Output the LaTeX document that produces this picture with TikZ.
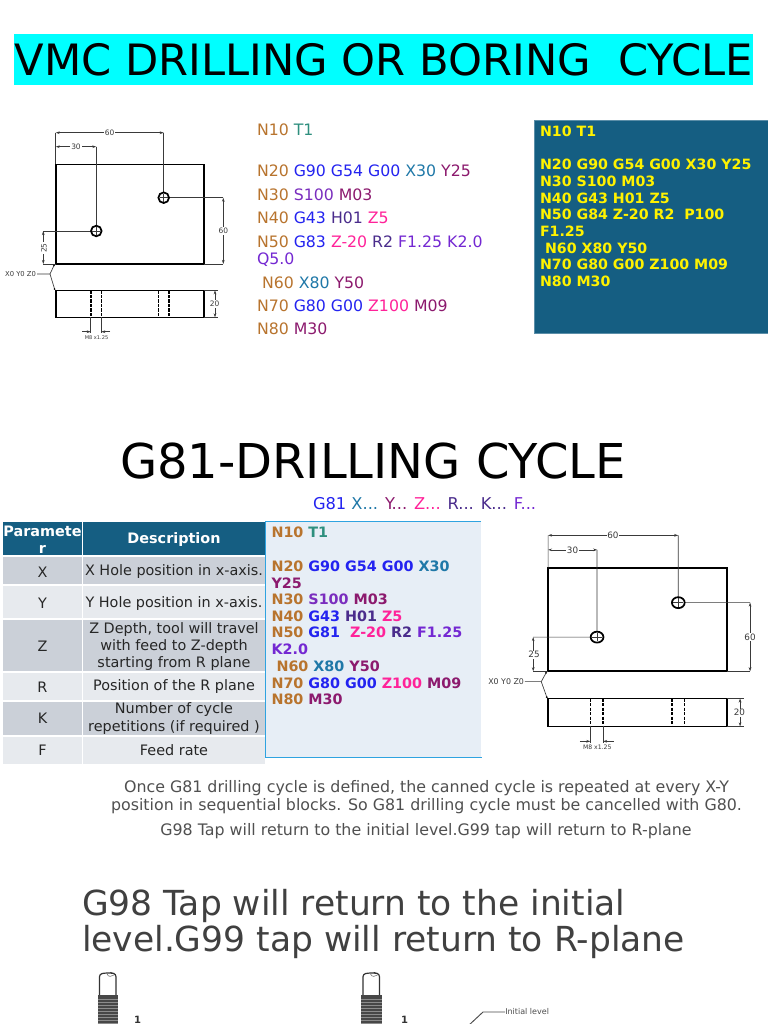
\documentclass[tikz,border=0pt]{standalone}
\usepackage{fontspec}
\usetikzlibrary{arrows.meta}
\setmainfont{DejaVu Sans}
\definecolor{aqua}{HTML}{00FFFF}
\definecolor{cN}{HTML}{B8742E}
\definecolor{cT}{HTML}{2E8F7E}
\definecolor{cG}{HTML}{2323F0}
\definecolor{cX}{HTML}{1F78A8}
\definecolor{cY}{HTML}{8C1A6E}
\definecolor{cS}{HTML}{7A2DBE}
\definecolor{cH}{HTML}{4A2C8C}
\definecolor{cZ}{HTML}{FF2299}
\definecolor{cF}{HTML}{7428D2}
\definecolor{navy}{HTML}{155E82}
\definecolor{rowA}{HTML}{CBD0D8}
\definecolor{rowB}{HTML}{E7EAEE}
\definecolor{panel}{HTML}{E7EEF6}
\definecolor{panelline}{HTML}{2FA3E0}
\definecolor{bodygrey}{HTML}{505050}
\definecolor{headgrey}{HTML}{404040}
\definecolor{dimgrey}{HTML}{3A3A3A}
\newcommand{\pxf}[2]{\fontsize{#1}{#2}\selectfont}
\newcommand{\N}[1]{\textcolor{cN}{#1}}
\newcommand{\T}[1]{\textcolor{cT}{#1}}
\newcommand{\G}[1]{\textcolor{cG}{#1}}
\newcommand{\Xc}[1]{\textcolor{cX}{#1}}
\newcommand{\Yc}[1]{\textcolor{cY}{#1}}
\newcommand{\Sc}[1]{\textcolor{cS}{#1}}
\newcommand{\Hc}[1]{\textcolor{cH}{#1}}
\newcommand{\Zc}[1]{\textcolor{cZ}{#1}}
\newcommand{\Fc}[1]{\textcolor{cF}{#1}}
\tikzset{
  line/.style={anchor=base west,inner sep=0pt,outer sep=0pt},
  plain/.style={line,font=\pxf{11.8}{14}},
  codeb/.style={line,font=\pxf{10.75}{13}\bfseries},
  yel/.style={line,font=\pxf{10.65}{13}\bfseries,text=yellow},
  cellt/.style={inner sep=0pt,align=center,text=black!85,font=\pxf{10.8}{13}},
  headt/.style={inner sep=0pt,align=center,text=white,font=\pxf{10.8}{13}\bfseries},
  heavy/.style={line width=1.2pt,black},
  thin/.style={line width=0.5pt,dimgrey},
  dim/.style={thin,{Stealth[length=3pt,width=2pt]}-{Stealth[length=3pt,width=2pt]}},
  dimo/.style={thin,-{Stealth[length=3pt,width=2pt]}},
  hid/.style={line width=1.2pt,black,dash pattern=on 2.4pt off 1pt},
  lbl/.style={inner sep=0.6pt,text=dimgrey},
  para/.style={inner sep=0pt,text=bodygrey,font=\pxf{11.88}{14}},
}
\newcommand{\drawing}[9]{% prefix, shift, xscale, yscale, font, rot, origin-label font, small font, dark-label x
\begin{scope}[shift={#2},xscale=#3,yscale=#4,every node/.append style={font=#5}]
  \coordinate (#1a) at (55.7,164.3); \coordinate (#1b) at (204,264);
  \coordinate (#1h) at (96.3,231); \coordinate (#1k) at (163.7,197.7);
  \draw[heavy] (#1a) rectangle (#1b);
  \draw[heavy] (55.7,290.3) rectangle (204,317.3);
  \draw[thin] (55.7,132.7) -- (#1a);
  \draw[thin] (163.7,132.7) -- (#1k);
  \draw[thin] (96.3,146.7) -- (#1h);
  \draw[dim] (55.7,132.7) -- (163.7,132.7);
  \draw[dim] (55.7,146.7) -- (96.3,146.7);
  \node[lbl,fill=white] (#1n60) at (109.5,133) {60};
  \node[lbl,fill=white] (#1n30) at (76,147) {30};
  \draw[thin] (#1h) -- (43.3,231);
  \draw[thin] (43.3,264) -- (55.7,264);
  \draw[dim] (43.3,231) -- (43.3,264);
  \node[lbl,fill=white,rotate=#6] (#1n25) at (44,248) {25};
  \draw[thin] (#1k) -- (223.3,197.7);
  \draw[thin] (204,264) -- (223.3,264);
  \draw[dim] (223.3,197.7) -- (223.3,264);
  \node[lbl,fill=white] (#1nr) at (223.3,231) {60};
  \draw[line width=1.3pt,black,fill=white] (#1h) circle [radius=5.3];
  \draw[line width=1.3pt,black,fill=white] (#1k) circle [radius=5.3];
  \draw[thin] (92.3,231) -- (100.3,231) (96.3,227) -- (96.3,235);
  \draw[thin] (159.7,197.7) -- (167.7,197.7) (163.7,193.7) -- (163.7,201.7);
  \foreach \xx in {90.7,101.3,158.3,169}{\draw[hid] (\xx,290.3) -- (\xx,317.3);}
  \draw[thin] (204,290.3) -- (218,290.3) (204,317.3) -- (218,317.3);
  \draw[dim] (215,290.3) -- (215,317.3);
  \node[lbl,fill=white] (#1n20) at (214.5,304) {20};
  \draw[thin] (90.7,317.3) -- (90.7,333) (101.3,317.3) -- (101.3,333);
  \draw[dimo] (82,331.7) -- (90.7,331.7);
  \draw[dimo] (110,331.7) -- (101.3,331.7);
  \node[lbl,font=#8] (#1m) at (96.5,337.5) {M8 x1.25};
  \node[lbl,anchor=east,font=#7] (#1o) at (#9,274) {X0 Y0 Z0};
  \coordinate (#1p) at (50,274);
  \coordinate (#1q) at (54,265.5);
  \coordinate (#1r) at (54.6,289);
  \draw[thin] (#1o) -- (#1p) -- (#1q);
  \draw[thin] (#1p) -- (#1r);
  \fill[black] (#1q) circle [radius=0.9];
  \fill[black] (#1r) circle [radius=0.9];
\end{scope}}
\newcommand{\tapshape}[2]{%
  \begin{scope}[shift={(#1,#2)}]
    \draw[line width=0.9pt,black!80,rounded corners=2pt] (1.5,23) -- (1.5,2) -- (7,1) -- (14,1) -- (18,2) -- (18,23);
    \draw[line width=0.4pt,black!60] (9,2) .. controls (10,5) and (14,5) .. (16,3);
    \fill[black!72] (-0.5,23) rectangle (20,60);
    \foreach \tt in {27,30,33,36,39,42,45,48,51}{\draw[line width=0.45pt,black!45] (-0.5,\tt) -- (20,\tt);}
  \end{scope}}
\begin{document}
\begin{tikzpicture}[x=0.75pt,y=-0.75pt]
\useasboundingbox (0,0) rectangle (768,1024);
\clip (0,0) rectangle (768,1024);
\fill[white] (0,0) rectangle (768,1024);
% title
\fill[aqua] (14,34) rectangle (753,85);
\node[line,font=\pxf{32.4}{36}] (title) at (14.5,75) {VMC DRILLING OR BORING \ CYCLE};
% drawing 1
\drawing{d}{(0,0)}{1}{1}{\pxf{5.6}{6.5}}{90}{\pxf{5.1}{6}}{\pxf{3.8}{4.5}}{37}
% code 1
\node[plain] (a1) at (257,135.5) {\N{N10} \T{T1}};
\node[plain] (a2) at (257,176) {\N{N20} \G{G90 G54 G00} \Xc{X30} \Yc{Y25}};
\node[plain] (a3) at (257,200) {\N{N30} \Sc{S100} \Yc{M03}};
\node[plain] (a4) at (257,223.5) {\N{N40} \G{G43} \Hc{H01} \Zc{Z5}};
\node[plain] (a5) at (257,247.5) {\N{N50} \G{G83} \Zc{Z-20} \Hc{R2} \Fc{F1.25 K2.0}};
\node[plain] (a6) at (257,264.5) {\Fc{Q5.0}};
\node[plain] (a7) at (262,288) {\N{N60} \Xc{X80} \Yc{Y50}};
\node[plain] (a8) at (257,311) {\N{N70} \G{G80 G00} \Zc{Z100} \Yc{M09}};
\node[plain] (a9) at (257,334.5) {\N{N80} \Yc{M30}};
% yellow panel
\fill[navy] (534.5,120) rectangle (768,333);
\draw[line width=0.5pt,navy!70!white] (768,120) -- (534.5,120) -- (534.5,333) -- (768,333);
\node[yel] (b1) at (540,136) {N10 T1};
\node[yel] (b2) at (540,169.5) {N20 G90 G54 G00 X30 Y25};
\node[yel] (b3) at (540,186.5) {N30 S100 M03};
\node[yel] (b4) at (540,203) {N40 G43 H01 Z5};
\node[yel] (b5) at (540,219.5) {N50 G84 Z-20 R2 \ P100};
\node[yel] (b6) at (540,236) {F1.25};
\node[yel] (b7) at (545,253) {N60 X80 Y50};
\node[yel] (b8) at (540,269.5) {N70 G80 G00 Z100 M09};
\node[yel] (b9) at (540,286.5) {N80 M30};
% G81 heading
\node[line,font=\pxf{36}{40}] (g81) at (120,478) {G81-DRILLING CYCLE};
\node[line,font=\pxf{12.2}{14}] (syn) at (313,509.5) {\G{G81} \Xc{X...} \Yc{Y...} \Zc{Z...} \Hc{R...} \Hc{K...} \Fc{F...}};
% table
\fill[navy] (3,522) rectangle (82,555);
\fill[navy] (83,522) rectangle (265,555);
\node[headt] (h1) at (42.5,539.5) {Paramete\\r};
\node[headt] (h2) at (174,540) {Description};
\fill[rowA] (3,557) rectangle (82,584);  \fill[rowA] (83,557) rectangle (265,584);
\fill[rowB] (3,586) rectangle (82,618);  \fill[rowB] (83,586) rectangle (265,618);
\fill[rowA] (3,620) rectangle (82,671);  \fill[rowA] (83,620) rectangle (265,671);
\fill[rowB] (3,673) rectangle (82,700);  \fill[rowB] (83,673) rectangle (265,700);
\fill[rowA] (3,701.5) rectangle (82,735);\fill[rowA] (83,701.5) rectangle (265,735);
\fill[rowB] (3,737) rectangle (82,764);  \fill[rowB] (83,737) rectangle (265,764);
\node[cellt] (cx) at (42.5,572) {X};
\node[cellt] (dx) at (174,572) {X Hole position in x-axis.};
\node[cellt] (cy) at (42.5,603.5) {Y};
\node[cellt] (dy) at (174,603.5) {Y Hole position in x-axis.};
\node[cellt] (cz) at (42.5,646) {Z};
\node[cellt] (dz) at (174,646.5) {Z Depth, tool will travel\\with feed to Z-depth\\starting from R plane};
\node[cellt] (cr) at (42.5,687) {R};
\node[cellt] (dr) at (174,687) {Position of the R plane};
\node[cellt] (ck) at (42.5,718.5) {K};
\node[cellt] (dk) at (174,718.5) {Number of cycle\\repetitions (if required )};
\node[cellt] (cf) at (42.5,750) {F};
\node[cellt] (df) at (174,750.5) {Feed rate};
% code panel
\fill[panel] (265.5,522) rectangle (481,757);
\draw[line width=1pt,panelline] (481,521.5) -- (265.5,521.5) -- (265.5,757.5) -- (482,757.5);
\node[codeb] (c1) at (271.5,537.5) {\N{N10} \T{T1}};
\node[codeb] (c2) at (271.5,571) {\N{N20} \G{G90 G54 G00} \Xc{X30}};
\node[codeb] (c3) at (271.5,588) {\Yc{Y25}};
\node[codeb] (c4) at (271.5,604.5) {\N{N30} \Sc{S100} \Yc{M03}};
\node[codeb] (c5) at (271.5,621) {\N{N40} \G{G43} \Hc{H01} \Zc{Z5}};
\node[codeb] (c6) at (271.5,637.5) {\N{N50} \G{G81} \ \Zc{Z-20} \Hc{R2} \Fc{F1.25}};
\node[codeb] (c7) at (271.5,654.5) {\Fc{K2.0}};
\node[codeb] (c8) at (276.5,671) {\N{N60} \Xc{X80} \Yc{Y50}};
\node[codeb] (c9) at (271.5,688) {\N{N70} \G{G80 G00} \Zc{Z100} \Yc{M09}};
\node[codeb] (c10) at (271.5,704.5) {\N{N80} \Yc{M30}};
% drawing 2
\drawing{e}{(481,398)}{1.205}{1.035}{\pxf{6.6}{8}}{0}{\pxf{5.9}{7}}{\pxf{4.6}{5.5}}{36.5}
% paragraphs
\node[para] (p1) at (426.5,788) {Once G81 drilling cycle is defined, the canned cycle is repeated at every X-Y};
\node[para] (p2) at (426.5,806) {position in sequential blocks. So G81 drilling cycle must be cancelled with G80.};
\node[para] (p3) at (426,831) {G98 Tap will return to the initial level.G99 tap will return to R-plane};
\node[line,text=headgrey,font=\pxf{25.87}{30}] (g1) at (82,915) {G98 Tap will return to the initial};
\node[line,text=headgrey,font=\pxf{25.87}{30}] (g2) at (82,951) {level.G99 tap will return to R-plane};
% taps
\tapshape{98}{972}
\tapshape{361.5}{972}
\node[line,font=\pxf{7.5}{9}\bfseries,text=black!80] (one1) at (134,1023.5) {1};
\node[line,font=\pxf{7.5}{9}\bfseries,text=black!80] (one2) at (401,1023.5) {1};
\node[inner sep=0pt,anchor=west,font=\pxf{6}{7},text=black!70] (init) at (505,1012) {Initial level};
\coordinate (initb) at (483,1012);
\coordinate (initc) at (468,1026);
\draw[line width=0.7pt,black!70] (init) -- (initb) -- (initc);
\end{tikzpicture}
\end{document}
